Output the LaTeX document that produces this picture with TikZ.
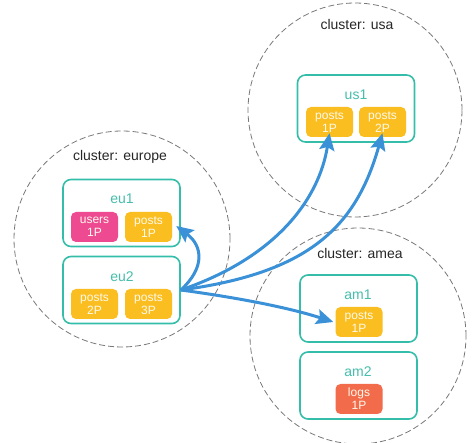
\documentclass[tikz,border=0pt]{standalone}
\usepackage{fontspec}
\setmainfont{Liberation Sans}
\usetikzlibrary{arrows.meta}
\definecolor{tealb}{RGB}{52,190,170}
\definecolor{tealt}{RGB}{70,190,172}
\definecolor{yel}{RGB}{251,190,32}
\definecolor{pnk}{RGB}{238,74,146}
\definecolor{org}{RGB}{242,107,74}
\definecolor{blu}{RGB}{58,145,215}
\definecolor{dgrey}{RGB}{120,120,120}
\tikzset{
  cluster/.style={circle, draw=dgrey, line width=0.8pt, dash pattern=on 6pt off 3pt, inner sep=0pt},
  clabel/.style={font=\fontsize{14}{16}\selectfont, text=black!85},
  hostbox/.style={draw=tealb, line width=1.6pt, rounded corners=8pt, fill=white, minimum width=117pt, minimum height=67pt, inner sep=0pt},
  hlabel/.style={font=\fontsize{14}{16}\selectfont, text=tealt},
  part/.style={rounded corners=5pt, minimum width=47pt, minimum height=30pt, inner sep=0pt, align=center, text=white!92!yel, font=\fontsize{12}{13}\selectfont},
  conn/.style={draw=blu, line width=3pt, -{Stealth[length=17pt,width=15pt,inset=3pt]}}
}
\begin{document}
\begin{tikzpicture}[x=1pt,y=-1pt]
\useasboundingbox (0,0) rectangle (474,443);
% clusters
\node[cluster, minimum size=216pt] (europe) at (122,239) {};
\node[cluster, minimum size=214pt] (usa) at (355,110) {};
\node[cluster, minimum size=216pt] (amea) at (358,336) {};
\node[clabel] (eulab) at (120,157) {cluster: europe};
\node[clabel] (uslab) at (357,25) {cluster: usa};
\node[clabel] (amlab) at (360,253) {cluster: amea};
% hosts
\node[hostbox] (eu1) at (121.5,213) {};
\node[hostbox] (eu2) at (121.5,290) {};
\node[hostbox] (us1) at (356,108.5) {};
\node[hostbox] (am1) at (358.5,308.5) {};
\node[hostbox] (am2) at (358.5,385.5) {};
\node[hlabel] (eu1l) at (122,199) {eu1};
\node[hlabel] (eu2l) at (122,277) {eu2};
\node[hlabel] (us1l) at (356,95) {us1};
\node[hlabel] (am1l) at (358,295) {am1};
\node[hlabel] (am2l) at (358,372) {am2};
% partitions
\node[part, fill=pnk] (eu1u) at (94.5,227) {users\\1P};
\node[part, fill=yel] (eu1p) at (148.5,227) {posts\\1P};
\node[part, fill=yel] (eu2a) at (94.5,304) {posts\\2P};
\node[part, fill=yel] (eu2b) at (148.5,304) {posts\\3P};
\node[part, fill=yel] (us1a) at (329.5,122) {posts\\1P};
\node[part, fill=yel] (us1b) at (382.5,122) {posts\\2P};
\node[part, fill=yel] (am1p) at (359,322) {posts\\1P};
\node[part, fill=org] (am2l2) at (359,399) {logs\\1P};
% connectors
\path[conn] (eu2.east) .. controls (205,268) and (203,246) .. ([xshift=4pt,yshift=1pt]eu1p.east);
\path[conn] (eu2.east) .. controls (275,258) and (319,200) .. ([yshift=4pt]us1a.south);
\path[conn] (eu2.east) .. controls (309,273) and (356,227) .. ([yshift=4pt]us1b.south);
\path[conn] (eu2.east) .. controls (240,298) and (290,308) .. ([xshift=-2pt]am1p.west);
\end{tikzpicture}
\end{document}
